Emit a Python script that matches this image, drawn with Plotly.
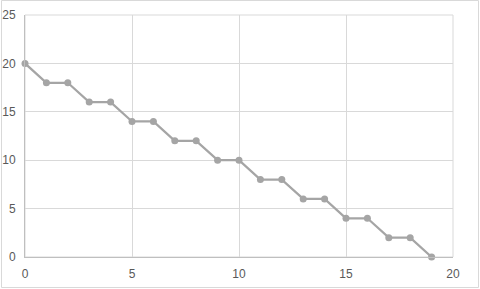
import plotly.graph_objects as go

x_vals = list(range(20))
y_vals = [20, 18, 18, 16, 16, 14, 14, 12, 12, 10, 10, 8, 8, 6, 6, 4, 4, 2, 2, 0]
x_ticks = [0, 5, 10, 15, 20]
y_ticks = [0, 5, 10, 15, 20, 25]

W, H = 480, 289
ML, MR, MT, MB = 25, 27, 15, 32
PW, PH = W - ML - MR, H - MT - MB

fig = go.Figure()
fig.add_trace(go.Scatter(
    x=x_vals, y=y_vals, mode="lines+markers",
    line=dict(color="#A5A5A5", width=2.25),
    marker=dict(color="#A5A5A5", size=7),
    cliponaxis=False,
))

fig.update_layout(
    width=W, height=H,
    margin=dict(l=ML, r=MR, t=MT, b=MB, autoexpand=False),
    paper_bgcolor="white", plot_bgcolor="white",
    showlegend=False,
    font=dict(family="Liberation Sans, Open Sans, sans-serif", size=12, color="#595959"),
    xaxis=dict(range=[0, 20], tickvals=x_ticks, showgrid=True, gridcolor="#D9D9D9",
               gridwidth=1, zeroline=False, showline=True, linecolor="#BFBFBF",
               linewidth=1, ticks="", automargin=False, fixedrange=True),
    yaxis=dict(range=[0, 25], tickvals=y_ticks, showgrid=True, gridcolor="#D9D9D9",
               gridwidth=1, zeroline=False, showline=True, linecolor="#BFBFBF",
               linewidth=1, ticks="", automargin=False, fixedrange=True),
    shapes=[
        dict(type="rect", xref="paper", yref="paper", x0=0, y0=0, x1=1, y1=1,
             line=dict(color="#D9D9D9", width=1), layer="below"),
        dict(type="rect", xref="paper", yref="paper",
             x0=(1.5 - ML) / PW, x1=(478.5 - ML) / PW,
             y0=(MT + PH - 287.5) / PH, y1=(MT + PH - 0.5) / PH,
             line=dict(color="#D9D9D9", width=1), layer="below"),
    ],
)
fig.update_xaxes(ticklabelstandoff=6)
fig.update_yaxes(ticklabelstandoff=6)

fig.write_html("out.html")
